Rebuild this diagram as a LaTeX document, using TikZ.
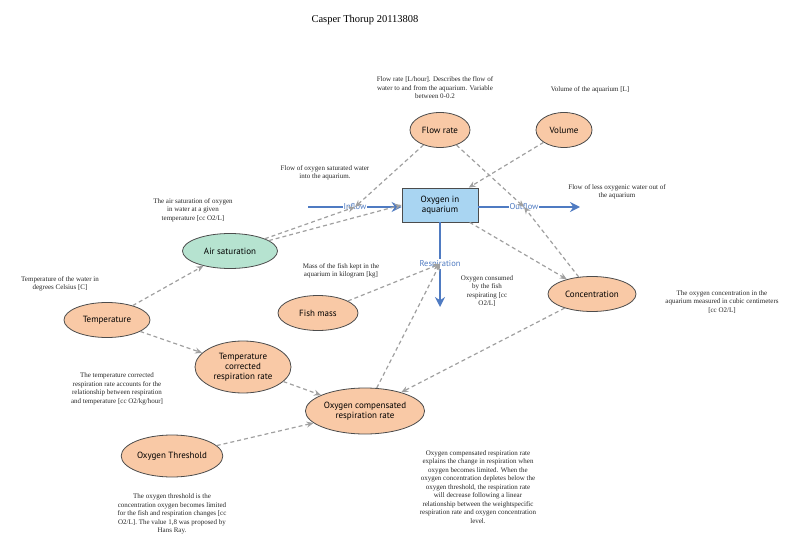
\documentclass[tikz,border=0pt]{standalone}
\usepackage{fontspec}
\setmainfont{Liberation Serif}
\newfontfamily\nodefont{PT Sans}
\usetikzlibrary{shapes.geometric,arrows.meta}
\definecolor{peach}{HTML}{F9C9A6}
\definecolor{mint}{HTML}{B6E3D0}
\definecolor{boxblue}{HTML}{A9D5F2}
\definecolor{flowblue}{HTML}{4F7BC2}
\definecolor{dashgray}{HTML}{A0A0A0}
\begin{document}
\begin{tikzpicture}[x=1pt,y=-1pt,
  ell/.style={ellipse,draw=black!70,fill=peach,line width=0.8pt,inner sep=1pt,font=\nodefont\fontsize{9}{10}\selectfont,align=center},
  note/.style={font=\fontsize{7}{8.5}\selectfont,align=center,text=black!85},
  dep/.style={draw=dashgray,line width=1.2pt,dash pattern=on 4pt off 3pt,-{Stealth[length=7pt,width=6pt]}},
  flow/.style={draw=flowblue,line width=2.2pt,-{Stealth[length=10pt,width=10pt]}},
  flab/.style={font=\nodefont\fontsize{8.5}{9}\selectfont,text=flowblue,fill=white,inner sep=1pt}]
\useasboundingbox (0,0) rectangle (800,553);
\node[font=\fontsize{10.5}{12}\selectfont] (title) at (365,20) {Casper Thorup 20113808};
\node[ell,minimum width=60,minimum height=35] (flow) at (440,130) {Flow rate};
\node[ell,minimum width=56,minimum height=35] (vol) at (564,130) {Volume};
\node[draw=black!70,fill=boxblue,line width=0.8pt,minimum width=76,minimum height=34,align=center,font=\nodefont\fontsize{9}{10}\selectfont] (oxy) at (440,205) {Oxygen in\\aquarium};
\node[ell,fill=mint,minimum width=95,minimum height=35] (air) at (230,251) {Air saturation};
\node[ell,minimum width=86,minimum height=35] (temp) at (107,320) {Temperature};
\node[ell,minimum width=80,minimum height=35] (fish) at (318,313) {Fish mass};
\node[ell,minimum width=88,minimum height=35] (conc) at (592,294) {Concentration};
\node[ell,minimum width=96,minimum height=52] (tcr) at (243,367) {Temperature\\corrected\\respiration rate};
\node[ell,minimum width=102,minimum height=46] (ocr) at (365,411) {Oxygen compensated\\respiration rate};
\node[ell,minimum width=100,minimum height=42] (thr) at (172,456) {Oxygen Threshold};
% flows
\coordinate (inS) at (308,207);
\coordinate (outE) at (580,207);
\coordinate (resE) at (440,307);
\draw[flow] (inS) -- (oxy.west|-inS);
\draw[flow] (oxy.east|-outE) -- (outE);
\draw[flow] (oxy.south) -- (resE);
\node[flab] (inl) at (355,207) {Inflow};
\node[flab] (outl) at (524,207) {Outflow};
\node[flab] (resl) at (440,264) {Respiration};
% dependencies
\draw[dep] (flow) -- (inl.center);
\draw[dep] (flow) -- (outl.center);
\draw[dep] (conc) -- (outl.center);
\draw[dep] (vol) -- (oxy);
\draw[dep] (air) -- (inl.center);
\draw[dep] (air) -- (oxy.west);
\draw[dep] (oxy) -- (conc);
\draw[dep] (fish) -- (resl.center);
\draw[dep] (ocr) -- (resl.center);
\draw[dep] (conc) -- (ocr);
\draw[dep] (temp) -- (air);
\draw[dep] (temp) -- (tcr);
\draw[dep] (tcr) -- (ocr);
\draw[dep] (thr) -- (ocr);
% notes
\node[note] (n1) at (435,88) {Flow rate [L/hour]. Describes the flow of\\water to and from the aquarium. Variable\\between 0-0.2};
\node[note] (n2) at (590,90) {Volume of the aquarium [L]};
\node[note] (n3) at (325,173) {Flow of oxygen saturated water\\into the aquarium.};
\node[note] (n4) at (617,192) {Flow of less oxygenic water out of\\the aquarium};
\node[note] (n5) at (193,210) {The air saturation of oxygen\\in water at a given\\temperature [cc O2/L]};
\node[note] (n6) at (60,284) {Temperature of the water in\\degrees Celsius [C]};
\node[note] (n7) at (341,271) {Mass of the fish kept in the\\aquarium in kilogram [kg]};
\node[note] (n8) at (487,291) {Oxygen consumed\\by the fish\\respirating [cc\\O2/L]};
\node[note] (n9) at (722,302) {The oxygen concentration in the\\aquarium measured in cubic centimeters\\{}[cc O2/L]};
\node[note] (n10) at (117,389) {The temperature corrected\\respiration rate accounts for the\\relationship between respiration\\and temperature [cc O2/kg/hour]};
\node[note] (n11) at (478,487) {Oxygen compensated respiration rate\\explains the change in respiration when\\oxygen becomes limited. When the\\oxygen concentration depletes below the\\oxygen threshold, the respiration rate\\will decrease following a linear\\relationship between the weightspecific\\respiration rate and oxygen concentration\\level.};
\node[note] (n12) at (172,514) {The oxygen threshold is the\\concentration oxygen becomes limited\\for the fish and respiration changes [cc\\O2/L]. The value 1,8 was proposed by\\Hans Ray.};
\end{tikzpicture}
\end{document}
